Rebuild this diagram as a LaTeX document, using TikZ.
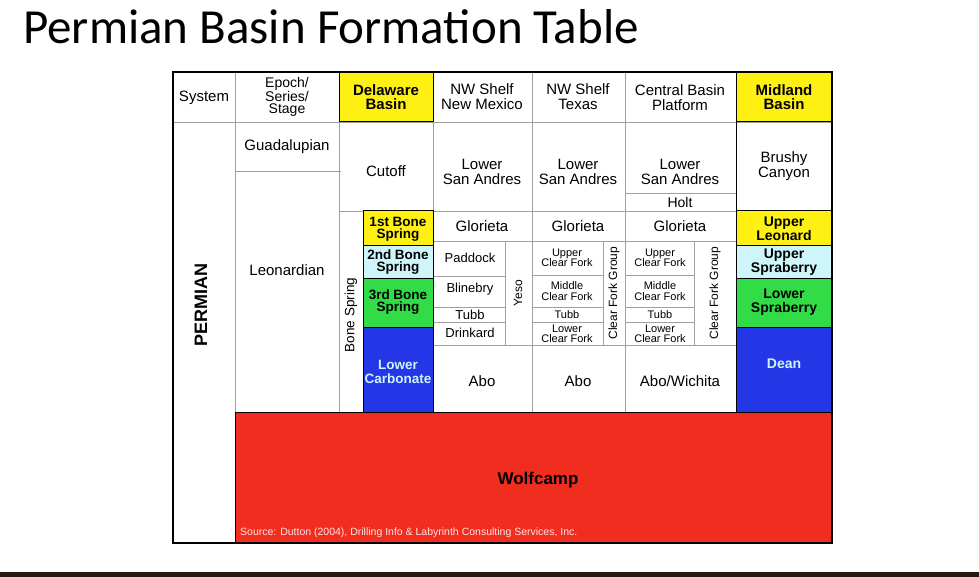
\documentclass[tikz,border=0pt]{standalone}
\usepackage{fontspec}
\setmainfont{Liberation Sans}
\newfontfamily\titlefont{Carlito}
\definecolor{cy}{RGB}{255,240,20}
\definecolor{cc}{RGB}{205,245,250}
\definecolor{cg}{RGB}{50,220,70}
\definecolor{cb}{RGB}{35,55,230}
\definecolor{cr}{RGB}{240,45,30}
\definecolor{gl}{RGB}{160,160,160}
\begin{document}
\begin{tikzpicture}[x=1pt,y=-1pt,
  cell/.style={draw=gl,line width=0.8pt},
  fbox/.style={draw=black,line width=1pt},
  t/.style={align=center,inner sep=0pt,font=\fontsize{15}{15}\selectfont},
  ts/.style={align=center,inner sep=0pt,font=\fontsize{11}{10.5}\selectfont},
  tb/.style={align=center,inner sep=0pt,font=\fontsize{15}{14}\selectfont\bfseries}]
\useasboundingbox (0,0) rectangle (979,577);
\fill[white] (0,0) rectangle (979,577);
\fill[black!80!brown] (0,572) rectangle (979,577);
\node[anchor=west,inner sep=0pt,font=\titlefont\fontsize{49}{49}\selectfont] (title) at (23,27) {Permian Basin Format{}ion Table};
% grey grid
\draw[cell] (173,122) -- (832,122);
\draw[cell] (235,72) -- (235,412);
\draw[cell] (235,171) -- (341,171);
\draw[cell] (339,122) -- (339,412);
\draw[cell] (433,72) -- (433,412);
\draw[cell] (532,72) -- (532,412);
\draw[cell] (625,72) -- (625,412);
\draw[cell] (339,211) -- (736,211);
\draw[cell] (433,241) -- (736,241);
\draw[cell] (433,345) -- (736,345);
\draw[cell] (625,193) -- (736,193);
\foreach \y in {276,307,322} \draw[cell] (433,\y) -- (505,\y);
\foreach \y in {275,307,322} {\draw[cell] (532,\y) -- (603,\y); \draw[cell] (625,\y) -- (694,\y);}
\draw[cell] (505,241) -- (505,345);
\draw[cell] (603,241) -- (603,345);
\draw[cell] (694,241) -- (694,345);
% colored boxes
\filldraw[fbox,fill=cy] (339,72) rectangle (433,122);
\filldraw[fbox,fill=cy] (736,72) rectangle (832,122);
\filldraw[fbox,fill=cy] (363,211) rectangle (433,246);
\filldraw[fbox,fill=cc] (363,246) rectangle (433,278);
\filldraw[fbox,fill=cg] (363,278) rectangle (433,327);
\filldraw[fbox,fill=cb] (363,327) rectangle (433,412);
\filldraw[fbox,fill=cy] (736,211) rectangle (832,246);
\filldraw[fbox,fill=cc] (736,246) rectangle (832,278);
\filldraw[fbox,fill=cg] (736,278) rectangle (832,327);
\filldraw[fbox,fill=cb] (736,327) rectangle (832,412);
\draw[fbox] (736,72) -- (736,412);
\filldraw[fbox,fill=cr] (235,412) rectangle (832,543);
\draw[line width=2pt] (173,72) rectangle (832,543);
% headers
\node[t] (h1) at (204,98) {System};
\node[t,font=\fontsize{14}{12}\selectfont] (h2) at (287,97) {Epoch/\\Series/\\Stage};
\node[tb] (h3) at (386,97) {Delaware\\Basin};
\node[t] (h4) at (482,97) {NW Shelf\\New Mexico};
\node[t] (h5) at (578,97) {NW Shelf\\Texas};
\node[t] (h6) at (680,98) {Central Basin\\Platform};
\node[tb] (h7) at (784,97) {Midland\\Basin};
\node[rotate=90,inner sep=0pt,font=\fontsize{18}{18}\selectfont\bfseries] (perm) at (201,305) {PERMIAN};
\node[t] (gua) at (287,147) {Guadalupian};
\node[t] (leo) at (287,270) {Leonardian};
\node[t] (cut) at (386,171) {Cutoff};
\node[t,rotate=90,font=\fontsize{13.5}{13.5}\selectfont] (bs) at (351,315) {Bone Spring};
\node[tb,font=\fontsize{13.5}{12}\selectfont\bfseries] (b1) at (398,229) {1st Bone\\Spring};
\node[tb,font=\fontsize{13.5}{12}\selectfont\bfseries] (b2) at (398,262) {2nd Bone\\Spring};
\node[tb,font=\fontsize{13.5}{12}\selectfont\bfseries] (b3) at (398,302) {3rd Bone\\Spring};
\node[tb,text=cc,font=\fontsize{13.5}{14}\selectfont\bfseries] (lc) at (398,372) {Lower\\Carbonate};
\node[t] (lsa1) at (482,172) {Lower\\San Andres};
\node[t] (lsa2) at (578,172) {Lower\\San Andres};
\node[t] (lsa3) at (680,172) {Lower\\San Andres};
\node[t,font=\fontsize{14}{14}\selectfont] (holt) at (680,202) {Holt};
\node[t] (g1) at (482,226) {Glorieta};
\node[t] (g2) at (578,226) {Glorieta};
\node[t] (g3) at (680,226) {Glorieta};
\node[t,font=\fontsize{13}{13}\selectfont] (pad) at (470,258) {Paddock};
\node[t,font=\fontsize{13}{13}\selectfont] (bli) at (470,289) {Blinebry};
\node[t,font=\fontsize{13}{13}\selectfont] (tub) at (470,315) {Tubb};
\node[t,font=\fontsize{13}{13}\selectfont] (dri) at (470,333) {Drinkard};
\node[t,rotate=90,font=\fontsize{12}{12}\selectfont] (yeso) at (518,293) {Yeso};
\node[ts] (u1) at (567,258) {Upper\\Clear Fork};
\node[ts] (m1) at (567,291) {Middle\\Clear Fork};
\node[ts] (t1) at (567,315) {Tubb};
\node[ts] (l1) at (567,334) {Lower\\Clear Fork};
\node[t,rotate=90,font=\fontsize{12}{12}\selectfont] (cf1) at (614,293) {Clear Fork Group};
\node[ts] (u2) at (660,258) {Upper\\Clear Fork};
\node[ts] (m2) at (660,291) {Middle\\Clear Fork};
\node[ts] (t2) at (660,315) {Tubb};
\node[ts] (l2) at (660,334) {Lower\\Clear Fork};
\node[t,rotate=90,font=\fontsize{12}{12}\selectfont] (cf2) at (715,293) {Clear Fork Group};
\node[t] (abo1) at (482,381) {Abo};
\node[t] (abo2) at (578,381) {Abo};
\node[t] (abo3) at (680,381) {Abo/Wichita};
\node[t] (bc) at (784,166) {Brushy\\Canyon};
\node[tb,font=\fontsize{14}{13}\selectfont\bfseries] (ul) at (784,229) {Upper\\Leonard};
\node[tb,font=\fontsize{14}{13}\selectfont\bfseries] (us) at (784,262) {Upper\\Spraberry};
\node[tb,font=\fontsize{14}{14}\selectfont\bfseries] (ls) at (784,302) {Lower\\Spraberry};
\node[tb,text=cc,font=\fontsize{14}{14}\selectfont\bfseries] (dean) at (784,364) {Dean};
\node[inner sep=0pt,font=\fontsize{17}{17}\selectfont\bfseries] (wc) at (538,480) {Wolfcamp};
\node[anchor=west,inner sep=0pt,text=white!90!red,font=\fontsize{10.5}{10.5}\selectfont] (src) at (240,533) {Source: Dutton (2004), Drilling Info \& Labyrinth Consulting Services, Inc.};
\end{tikzpicture}
\end{document}
